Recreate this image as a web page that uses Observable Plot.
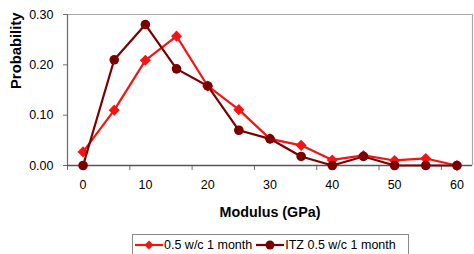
<!DOCTYPE html>
<html>
<head>
<meta charset="utf-8">
<script src="https://cdn.jsdelivr.net/npm/d3@7"></script>
<script src="https://cdn.jsdelivr.net/npm/@observablehq/plot@0.6"></script>
<style>
  html, body { margin: 0; padding: 0; background: #fff; overflow: hidden; }
  body { font-family: "Liberation Sans", Arial, sans-serif; width: 474px; height: 254px; }
  #chart svg { display: block; }
  .legend {
    margin-left: 132px; margin-top: 2px;
    width: 277px; height: 30px; box-sizing: border-box;
    border: 1px solid #8a8a8a; border-bottom: none;
    display: flex; align-items: flex-start; padding: 3px 0 0 2px;
    font-size: 12.5px; color: #000; white-space: nowrap;
  }
  .legend .item { display: flex; align-items: center; margin-right: 4px; }
  .legend svg { margin-right: 1px; }
</style>
</head>
<body>
<div id="chart"></div>
<script>
// Modulus bins (GPa) and the probability of each bin for the two materials
const modulus = [0, 5, 10, 15, 20, 25, 30, 35, 40, 45, 50, 55, 60];
const probBulk = [0.027, 0.11, 0.209, 0.257, 0.158, 0.111, 0.053, 0.04, 0.011, 0.02, 0.01, 0.014, 0];
const probITZ  = [0, 0.21, 0.28, 0.192, 0.158, 0.07, 0.053, 0.018, 0, 0.018, 0, 0, 0];
const seriesNames = ["0.5 w/c 1 month", "ITZ 0.5 w/c 1 month"];
const seriesColors = ["#f41414", "#7a0000"];
const xTickLabels = [0, 10, 20, 30, 40, 50, 60];
const yTickValues = [0, 0.1, 0.2, 0.3];

// Category-style x axis: each bin is 5 GPa wide, tick marks sit on bin edges
const xMin = modulus[0] - 2.5, xMax = modulus[modulus.length - 1] + 2.5;
const binEdges = d3.range(xMin, xMax, 10);

const bulk = modulus.map((m, i) => ({modulus: m, prob: probBulk[i]}));
const itz = modulus.map((m, i) => ({modulus: m, prob: probITZ[i]}));

const font = '"Liberation Sans", Arial, sans-serif';
const axisColor = "#707070";

const chart = Plot.plot({
  width: 474,
  height: 232,
  marginTop: 14,
  marginBottom: 67,
  marginLeft: 67,
  marginRight: 2,
  style: {fontFamily: font, fontSize: "12.5px", color: "#000", background: "#fff"},
  x: {domain: [xMin, xMax]},
  y: {domain: [0, 0.3]},
  marks: [
    // plot area border (top and right)
    Plot.ruleY([0.3], {stroke: "#a8a8a8", strokeWidth: 1.2}),
    Plot.ruleX([xMax], {stroke: "#a8a8a8", strokeWidth: 1.2}),
    Plot.axisY({ticks: yTickValues, tickFormat: d => d.toFixed(2), tickSize: 4, tickPadding: 10,
                label: null, stroke: axisColor}),
    Plot.axisX({ticks: binEdges, tickFormat: () => "", tickSize: 5, label: null, stroke: axisColor}),
    Plot.axisX({ticks: xTickLabels, tickFormat: d => String(d), tickSize: 0, tickPadding: 15, label: null}),
    Plot.ruleX([xMin], {stroke: axisColor, strokeWidth: 1.3}),
    Plot.ruleY([0], {stroke: "#555", strokeWidth: 1.3}),
    Plot.text(["Modulus (GPa)"], {frameAnchor: "bottom", dy: 47, fontWeight: "bold", fontSize: 14.3, lineAnchor: "middle"}),
    Plot.text(["Probability"], {frameAnchor: "left", dx: -51, dy: -1, rotate: -90, fontWeight: "bold", fontSize: 14.8, lineAnchor: "middle"}),
    // 0.5 w/c series
    Plot.line(bulk, {x: "modulus", y: "prob", stroke: seriesColors[0], strokeWidth: 2.2}),
    Plot.dot(bulk, {x: "modulus", y: "prob", symbol: "diamond2", r: 5, fill: seriesColors[0], stroke: "none"}),
    // ITZ series
    Plot.line(itz, {x: "modulus", y: "prob", stroke: seriesColors[1], strokeWidth: 2.2}),
    Plot.dot(itz, {x: "modulus", y: "prob", symbol: "circle", r: 4.8, fill: seriesColors[1], stroke: "none"})
  ]
});
document.getElementById("chart").append(chart);

// Legend below the chart
const legend = document.createElement("div");
legend.className = "legend";
const shapes = [
  c => `<path d="M14,1.5 L18.5,6 L14,10.5 L9.5,6 Z" fill="${c}"/>`,
  c => `<circle cx="14" cy="6" r="4.5" fill="${c}"/>`
];
seriesNames.forEach((name, i) => {
  const item = document.createElement("span");
  item.className = "item";
  item.innerHTML = `<svg width="28" height="12"><line x1="0" x2="28" y1="6" y2="6" stroke="${seriesColors[i]}" stroke-width="2.2"/>${shapes[i](seriesColors[i])}</svg><span>${name}</span>`;
  legend.append(item);
});
document.body.append(legend);
</script>
</body>
</html>
